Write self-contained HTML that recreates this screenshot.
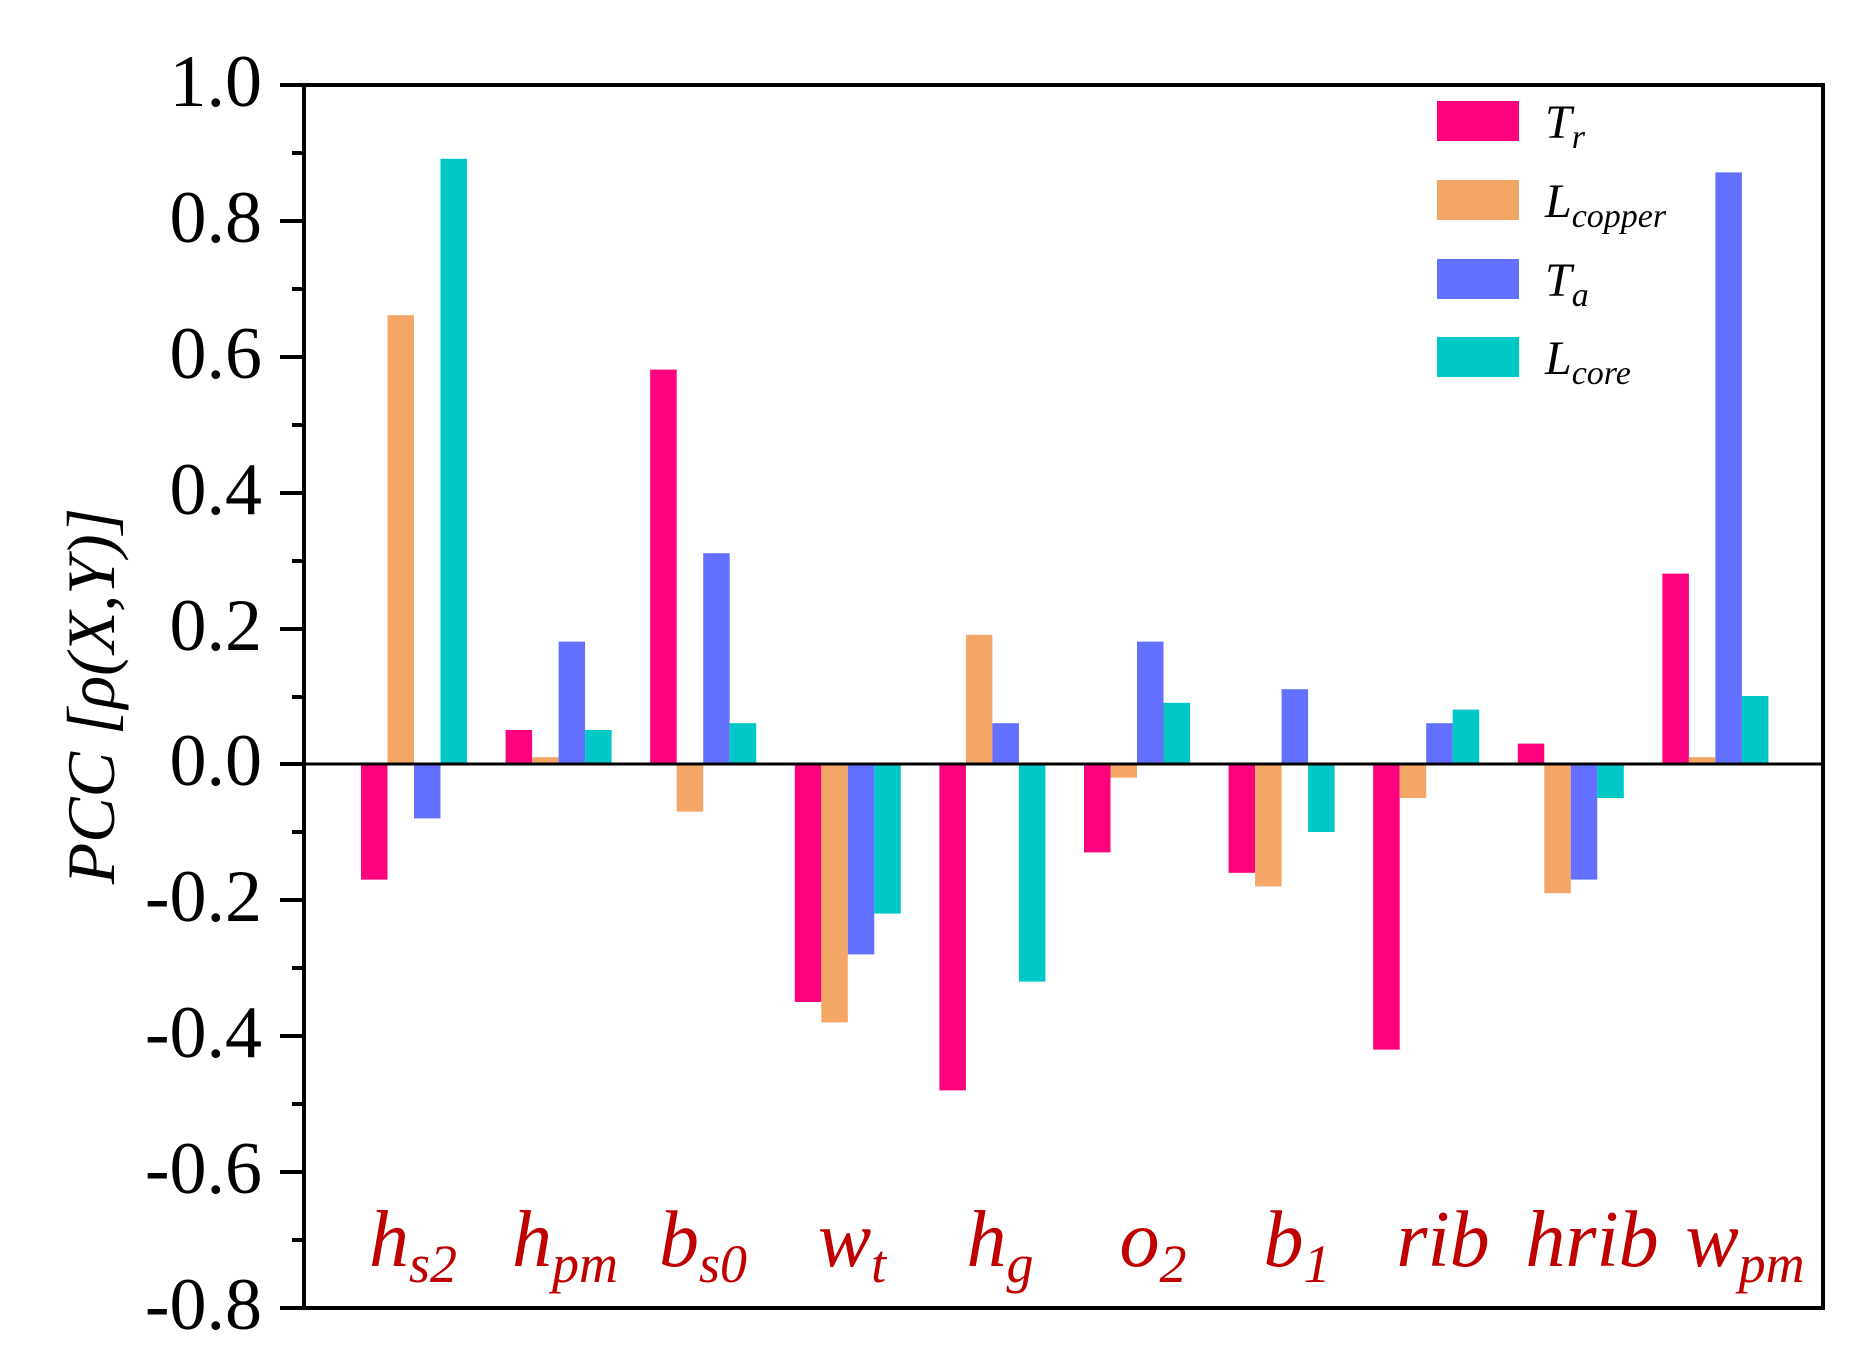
<!DOCTYPE html>
<html><head><meta charset="utf-8"><style>body{margin:0;background:#fff}svg{display:block}</style></head>
<body>
<svg xmlns="http://www.w3.org/2000/svg" width="1872" height="1366" viewBox="0 0 1872 1366">
<g>
<rect x="361" y="764" width="26.5" height="115.6" fill="#ff007f"/>
<rect x="387.5" y="315.2" width="26.5" height="448.8" fill="#f3a666"/>
<rect x="414" y="764" width="26.5" height="54.4" fill="#6370ff"/>
<rect x="440.5" y="158.8" width="26.5" height="605.2" fill="#00c8c6"/>
<rect x="505.6" y="730" width="26.5" height="34" fill="#ff007f"/>
<rect x="532.1" y="757.2" width="26.5" height="6.8" fill="#f3a666"/>
<rect x="558.6" y="641.6" width="26.5" height="122.4" fill="#6370ff"/>
<rect x="585.1" y="730" width="26.5" height="34" fill="#00c8c6"/>
<rect x="650.2" y="369.6" width="26.5" height="394.4" fill="#ff007f"/>
<rect x="676.7" y="764" width="26.5" height="47.6" fill="#f3a666"/>
<rect x="703.2" y="553.2" width="26.5" height="210.8" fill="#6370ff"/>
<rect x="729.7" y="723.2" width="26.5" height="40.8" fill="#00c8c6"/>
<rect x="794.8" y="764" width="26.5" height="238" fill="#ff007f"/>
<rect x="821.3" y="764" width="26.5" height="258.4" fill="#f3a666"/>
<rect x="847.8" y="764" width="26.5" height="190.4" fill="#6370ff"/>
<rect x="874.3" y="764" width="26.5" height="149.6" fill="#00c8c6"/>
<rect x="939.4" y="764" width="26.5" height="326.4" fill="#ff007f"/>
<rect x="965.9" y="634.8" width="26.5" height="129.2" fill="#f3a666"/>
<rect x="992.4" y="723.2" width="26.5" height="40.8" fill="#6370ff"/>
<rect x="1018.9" y="764" width="26.5" height="217.6" fill="#00c8c6"/>
<rect x="1084" y="764" width="26.5" height="88.4" fill="#ff007f"/>
<rect x="1110.5" y="764" width="26.5" height="13.6" fill="#f3a666"/>
<rect x="1137" y="641.6" width="26.5" height="122.4" fill="#6370ff"/>
<rect x="1163.5" y="702.8" width="26.5" height="61.2" fill="#00c8c6"/>
<rect x="1228.6" y="764" width="26.5" height="108.8" fill="#ff007f"/>
<rect x="1255.1" y="764" width="26.5" height="122.4" fill="#f3a666"/>
<rect x="1281.6" y="689.2" width="26.5" height="74.8" fill="#6370ff"/>
<rect x="1308.1" y="764" width="26.5" height="68" fill="#00c8c6"/>
<rect x="1373.2" y="764" width="26.5" height="285.6" fill="#ff007f"/>
<rect x="1399.7" y="764" width="26.5" height="34" fill="#f3a666"/>
<rect x="1426.2" y="723.2" width="26.5" height="40.8" fill="#6370ff"/>
<rect x="1452.7" y="709.6" width="26.5" height="54.4" fill="#00c8c6"/>
<rect x="1517.8" y="743.6" width="26.5" height="20.4" fill="#ff007f"/>
<rect x="1544.3" y="764" width="26.5" height="129.2" fill="#f3a666"/>
<rect x="1570.8" y="764" width="26.5" height="115.6" fill="#6370ff"/>
<rect x="1597.3" y="764" width="26.5" height="34" fill="#00c8c6"/>
<rect x="1662.4" y="573.6" width="26.5" height="190.4" fill="#ff007f"/>
<rect x="1688.9" y="757.2" width="26.5" height="6.8" fill="#f3a666"/>
<rect x="1715.4" y="172.4" width="26.5" height="591.6" fill="#6370ff"/>
<rect x="1741.9" y="696" width="26.5" height="68" fill="#00c8c6"/>
</g>
<line x1="303" y1="764" x2="1824" y2="764" stroke="#000" stroke-width="3"/>
<rect x="304" y="85" width="1519" height="1223" fill="none" stroke="#000" stroke-width="4"/>
<g stroke="#000" stroke-width="4">
<line x1="280" y1="85" x2="303" y2="85"/><line x1="280" y1="221" x2="303" y2="221"/><line x1="280" y1="357" x2="303" y2="357"/><line x1="280" y1="493" x2="303" y2="493"/><line x1="280" y1="629" x2="303" y2="629"/><line x1="280" y1="764" x2="303" y2="764"/><line x1="280" y1="900" x2="303" y2="900"/><line x1="280" y1="1036" x2="303" y2="1036"/><line x1="280" y1="1172" x2="303" y2="1172"/><line x1="280" y1="1308" x2="303" y2="1308"/>
<line x1="292" y1="153" x2="303" y2="153"/><line x1="292" y1="289" x2="303" y2="289"/><line x1="292" y1="425" x2="303" y2="425"/><line x1="292" y1="561" x2="303" y2="561"/><line x1="292" y1="697" x2="303" y2="697"/><line x1="292" y1="832" x2="303" y2="832"/><line x1="292" y1="968" x2="303" y2="968"/><line x1="292" y1="1104" x2="303" y2="1104"/><line x1="292" y1="1240" x2="303" y2="1240"/>
</g>
<g font-family="Liberation Serif, serif" font-size="74" text-anchor="end" fill="#000">
<text x="262" y="106">1.0</text><text x="262" y="242">0.8</text><text x="262" y="378">0.6</text><text x="262" y="514">0.4</text><text x="262" y="650">0.2</text><text x="262" y="785">0.0</text><text x="262" y="921">-0.2</text><text x="262" y="1057">-0.4</text><text x="262" y="1193">-0.6</text><text x="262" y="1329">-0.8</text>
</g>
<text transform="translate(114,696) rotate(-90)" font-family="Liberation Serif, serif" font-size="68" text-anchor="middle" font-style="italic">PCC [ρ(X,Y)]</text>
<g font-family="Liberation Serif, serif" font-size="80" font-style="italic" fill="#c00000" text-anchor="middle">
<text x="413" y="1266">h<tspan font-size="54" dy="16">s2</tspan></text>
<text x="565" y="1266">h<tspan font-size="54" dy="16">pm</tspan></text>
<text x="703" y="1266">b<tspan font-size="54" dy="16">s0</tspan></text>
<text x="852" y="1266">w<tspan font-size="54" dy="16">t</tspan></text>
<text x="1000" y="1266">h<tspan font-size="54" dy="16">g</tspan></text>
<text x="1153" y="1266">o<tspan font-size="54" dy="16">2</tspan></text>
<text x="1297" y="1266">b<tspan font-size="54" dy="16">1</tspan></text>
<text x="1443" y="1266">rib</text>
<text x="1592" y="1266">hrib</text>
<text x="1745" y="1266">w<tspan font-size="54" dy="16">pm</tspan></text>
</g>
<rect x="1437" y="101" width="82" height="40" fill="#ff007f"/>
<rect x="1437" y="180" width="82" height="40" fill="#f3a666"/>
<rect x="1437" y="259" width="82" height="40" fill="#6370ff"/>
<rect x="1437" y="337" width="82" height="40" fill="#00c8c6"/>
<g font-family="Liberation Serif, serif" font-size="48" font-style="italic">
<text x="1545" y="138">T<tspan font-size="34" dy="10">r</tspan></text>
<text x="1545" y="217">L<tspan font-size="34" dy="10">copper</tspan></text>
<text x="1545" y="296">T<tspan font-size="34" dy="10">a</tspan></text>
<text x="1545" y="374">L<tspan font-size="34" dy="10">core</tspan></text>
</g>
</svg>
</body></html>
